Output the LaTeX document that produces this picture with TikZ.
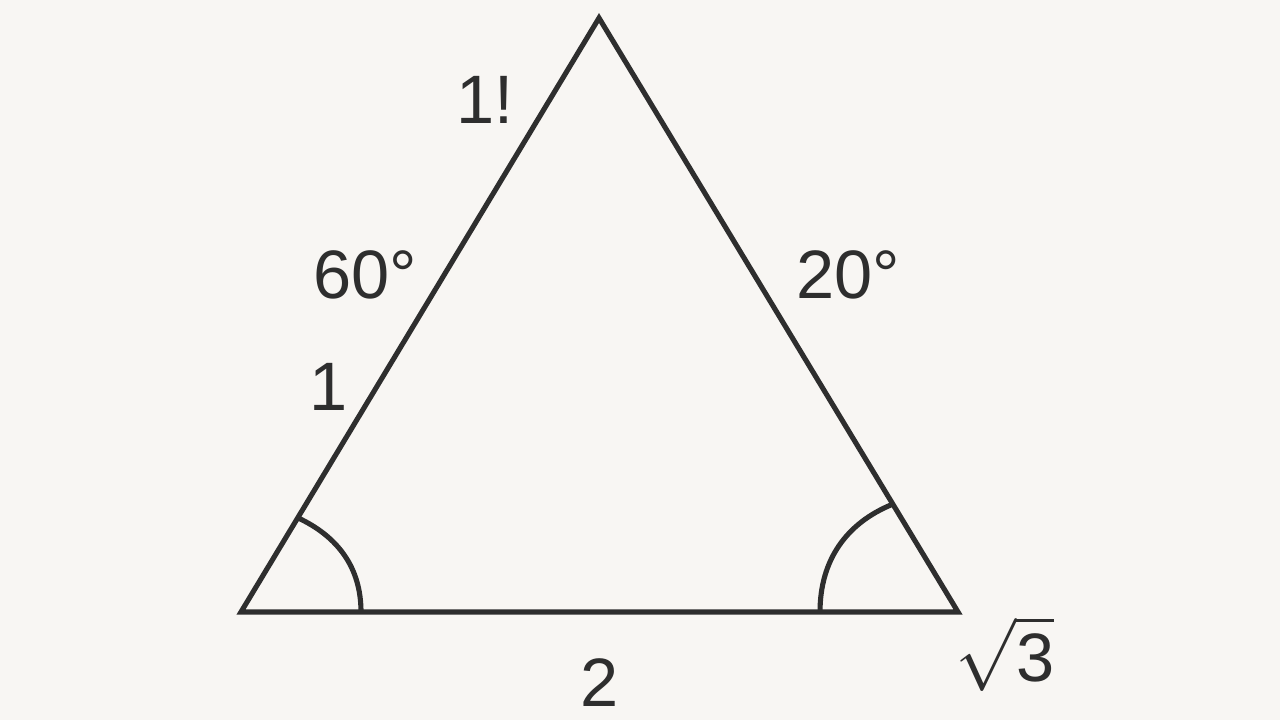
\documentclass[tikz,border=0pt]{standalone}
\usepackage{fontspec}
\setmainfont{Liberation Sans}
\usetikzlibrary{calc}
\definecolor{ink}{HTML}{2E2E2E}
\definecolor{paper}{HTML}{F8F6F3}
\begin{document}
\begin{tikzpicture}[line width=1.45pt,every node/.style={text=ink,font=\fontsize{19.5}{22}\selectfont}]
        \useasboundingbox[fill=paper] (0,0) rectangle (12.8,7.2);
        \coordinate (A) at (2.41,1.08);
        \coordinate (B) at (9.58,1.08);
        \coordinate (C) at (5.99,7.02);
        \draw[ink,line join=miter] (A) -- (B) -- (C) -- cycle;
        % angle marks
        \draw[ink] ([xshift=1.20cm]A) to[out=90,in=-25] ($(A)!1.10cm!(C)$);
        \draw[ink] ([xshift=-1.38cm]B) to[out=90,in=-158] ($(B)!1.26cm!(C)$);
        % labels
        \node (top) at (4.85,6.20) {1!};
        \node (angA) at (3.65,4.45) {60°};
        \node (angB) at (8.48,4.45) {20°};
        \node (sideA) at (3.29,3.33) {1};
        \node (base) at (6.00,0.37) {2};
        \node (corner) at (10.05,0.66) {\(\sqrt{\mbox{3}}\)};
\end{tikzpicture}
\end{document}
